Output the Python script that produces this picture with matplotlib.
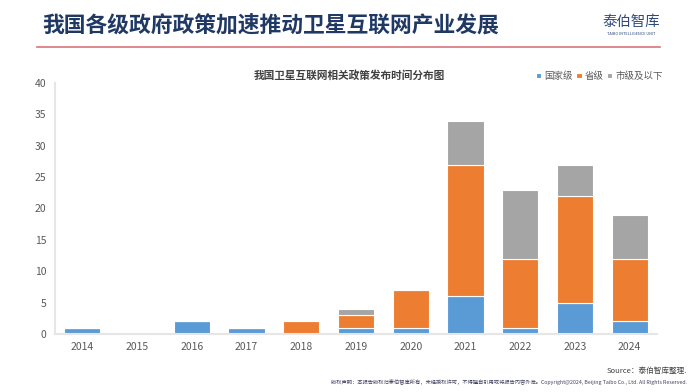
import numpy as np
import matplotlib.pyplot as plt
from matplotlib.lines import Line2D

plt.rcParams['font.family'] = ['Noto Sans CJK SC', 'DejaVu Sans']

# 数据
years = ["2014", "2015", "2016", "2017", "2018", "2019", "2020", "2021", "2022", "2023", "2024"]
national = [1, 0, 2, 1, 0, 1, 1, 6, 1, 5, 2]
provincial = [0, 0, 0, 0, 2, 2, 6, 21, 11, 17, 10]
city = [0, 0, 0, 0, 0, 1, 0, 7, 11, 5, 7]
series_names = ["国家级", "省级", "市级及以下"]
colors = ["#5b9bd5", "#ed7d31", "#a5a5a5"]

fig = plt.figure(figsize=(7, 3.92), dpi=100)

# 页面标题
fig.text(42 / 700, 1 - 26 / 392, "我国各级政府政策加速推动卫星互联网产业发展",
         fontsize=15.7, fontweight="bold", color="#1f3864", va="center", ha="left")
fig.add_artist(Line2D([37 / 700, 660 / 700], [1 - 47 / 392, 1 - 47 / 392],
                      color="#d9737a", lw=1.2))
fig.text(631 / 700, 1 - 22 / 392, "泰伯智库", fontsize=10.4, color="#2f4a7a",
         va="center", ha="center")
fig.text(631 / 700, 1 - 34 / 392, "TAIBO INTELLIGENCE UNIT", fontsize=2.8,
         color="#2f4a7a", va="center", ha="center")

ax = fig.add_axes([55 / 700, 1 - 334 / 392, 602 / 700, 251 / 392])

x = np.arange(len(years))
bottom = np.zeros(len(years))
for vals, name, c in zip([national, provincial, city], series_names, colors):
    ax.bar(x, vals, width=0.66, bottom=bottom, color=c, edgecolor="white",
           linewidth=0.8, label=name)
    bottom += np.array(vals)

ax.set_xlim(-0.5, len(years) - 0.5)
ax.set_ylim(0, 40)
ax.set_yticks(range(0, 41, 5))
ax.set_xticks(x)
ax.set_xticklabels(years)
ax.tick_params(axis="both", length=0, labelsize=7.5, colors="#595959")
ax.tick_params(axis="x", pad=6)
ax.tick_params(axis="y", pad=6)
for s in ["top", "right"]:
    ax.spines[s].set_visible(False)
ax.spines["left"].set_color("#e6e6e6")
ax.spines["left"].set_linewidth(1.5)
ax.spines["bottom"].set_color("#e6e6e6")
ax.spines["bottom"].set_linewidth(1.5)

fig.text(349 / 700, 1 - 75 / 392, "我国卫星互联网相关政策发布时间分布图",
         fontsize=7.7, fontweight="bold", color="#404040", va="center", ha="center")

leg = ax.legend(loc="center left", bbox_to_anchor=(536 / 700, 1 - 76 / 392),
                bbox_transform=fig.transFigure, ncol=3, frameon=False,
                fontsize=6.8, handlelength=0.55, handleheight=0.55,
                handletextpad=0.3, columnspacing=0.4, borderaxespad=0, borderpad=0)
for t in leg.get_texts():
    t.set_color("#595959")

fig.text(687 / 700, 1 - 371 / 392, "Source：泰伯智库整理.", fontsize=5.5,
         color="#404040", va="center", ha="right")
fig.text(687 / 700, 1 - 382 / 392,
         "版权声明：本报告版权归泰伯智库所有，未经授权许可，不得擅自引用或将报告内容外泄。Copyright@2024, Beijing Taibo Co., Ltd. All Rights Reserved.",
         fontsize=3.8, color="#404060", va="center", ha="right")

fig.savefig("out.png", dpi=100)
